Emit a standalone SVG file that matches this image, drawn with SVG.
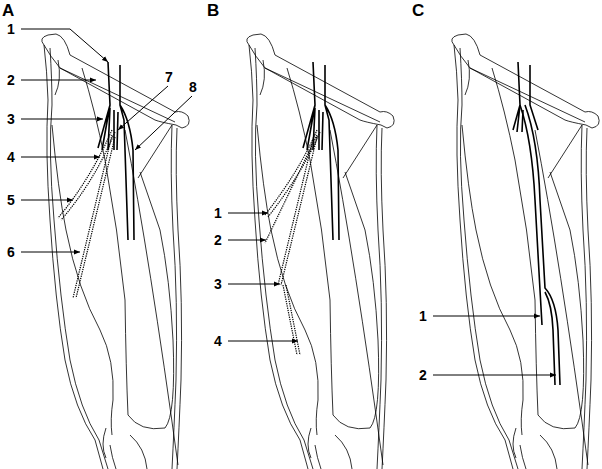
<svg xmlns="http://www.w3.org/2000/svg" width="602" height="469" viewBox="0 0 602 469">
<defs>
<style>
.o{fill:none;stroke:#000;stroke-width:0.8}
.v{fill:none;stroke:#000;stroke-width:1.6}
.d{fill:none;stroke:#000;stroke-width:1.2;stroke-dasharray:1.3 1}
.l{fill:none;stroke:#000;stroke-width:1}
.n{font-family:"Liberation Sans",Arial,sans-serif;font-weight:bold;font-size:14px}
.p{font-family:"Liberation Sans",Arial,sans-serif;font-weight:bold;font-size:17px}
</style>
<marker id="a" viewBox="0 0 10 10" refX="10" refY="5" markerWidth="6" markerHeight="6" orient="auto"><path d="M0,1 L10,5 L0,9z"/></marker>
<g id="thigh">
<path class="o" d="M44,45 Q38,38 48,35 L56,34 Q65,36 70,55 L175,112 Q182,110 188,116 Q192,126 182,128 L176,125 Q160,122 155,120 L60,68 Q50,56 44,45z"/>
<path class="o" d="M60,68 L175,122"/>
<path class="o" d="M44,45 Q47,70 48,100 Q45,150 50,220 Q55,300 65,360 Q75,410 95,440 L103,469"/>
<path class="o" d="M50,48 Q52,80 52,105 Q48,150 54,220 Q60,300 70,360 Q80,410 99,440 L108,469"/>
<path class="o" d="M58,60 Q62,80 55,95"/>
<path class="o" d="M52,125 Q58,190 66,230 Q78,290 100,330 Q115,360 113,400 Q110,420 112,435"/>
<path class="o" d="M82,68 Q95,110 105,160 Q118,230 125,300 Q126,370 128,415 Q140,432 165,428 Q176,415 173,340 Q170,280 160,230 L140,172"/>
<path class="o" d="M125,130 Q150,260 178,465"/>
<path class="o" d="M138,178 L172,125"/>
<path class="o" d="M172,125 Q170,170 173,230 Q178,300 176,380 Q174,430 172,469"/>
<path class="o" d="M177,128 Q175,170 178,230 Q183,300 181,380 Q179,430 177,469"/>
<path class="o" d="M106,428 Q100,445 106,458 M110,445 Q112,458 116,469 M130,435 Q145,448 147,469"/>
</g>
</defs>
<use href="#thigh"/>
<use href="#thigh" x="205"/>
<use href="#thigh" x="410"/>

<g id="vessels-A">
<path class="v" d="M108,62 L110,105 L98,148 M110,105 L102,150 M110,108 L108,150 M120,65 L120,105 Q130,120 133,150 L134,240 M120,105 L124,120 L125,150 L128,240 M114,110 L114,150 M118,112 L117,150"/>
<path class="d" d="M112,130 Q90,180 58,218 M115,132 Q94,182 61,220 M112,135 L73,298 M115,137 L76,298"/>
</g>
<g id="vessels-B">
<path class="v" d="M313,62 L315,105 L303,148 M315,105 L307,150 M315,108 L313,150 M325,65 L325,105 Q335,120 338,150 L339,240 M325,105 L329,120 L330,150 L333,240 M319,110 L319,150 M323,112 L322,150"/>
<path class="d" d="M317,130 Q300,170 265,215 M320,132 Q303,172 268,217 M317,135 L265,243 M314,135 L278,285 M317,137 L281,285 M283,285 L297,355 M286,285 L300,355"/>
</g>
<g id="vessels-C">
<path class="v" d="M518,62 L520,105 L513,130 M520,105 L517,132 M530,65 L530,105 L538,130 M523,110 L522,132"/>
<path class="v" d="M520,105 Q532,140 535,200 L540,290 L542,325 M525,105 Q538,140 540,200 L545,288 Q556,300 558,330 L560,385 M545,292 Q552,305 553,330 L555,385"/>
</g>

<g id="labels">
<text class="p" x="2" y="16">A</text>
<text class="p" x="207" y="16">B</text>
<text class="p" x="412" y="16">C</text>
<text class="n" x="7" y="34">1</text>
<text class="n" x="7" y="85">2</text>
<text class="n" x="7" y="124">3</text>
<text class="n" x="7" y="162">4</text>
<text class="n" x="7" y="205">5</text>
<text class="n" x="7" y="257">6</text>
<text class="n" x="165" y="82">7</text>
<text class="n" x="189" y="92">8</text>
<text class="n" x="214" y="218">1</text>
<text class="n" x="214" y="245">2</text>
<text class="n" x="214" y="289">3</text>
<text class="n" x="214" y="346">4</text>
<text class="n" x="419" y="321">1</text>
<text class="n" x="419" y="380">2</text>
</g>
<g id="connectors">
<path class="l" marker-end="url(#a)" d="M21,29 L70,29 L108,62"/>
<path class="l" marker-end="url(#a)" d="M21,80 L96,80"/>
<path class="l" marker-end="url(#a)" d="M21,119 L103,119"/>
<path class="l" marker-end="url(#a)" d="M21,157 L100,157"/>
<path class="l" marker-end="url(#a)" d="M21,200 L73,200"/>
<path class="l" marker-end="url(#a)" d="M21,252 L80,252"/>
<path class="l" marker-end="url(#a)" d="M168,86 L118,130"/>
<path class="l" marker-end="url(#a)" d="M192,96 L135,150"/>
<path class="l" marker-end="url(#a)" d="M228,213 L268,213"/>
<path class="l" marker-end="url(#a)" d="M228,240 L266,240"/>
<path class="l" marker-end="url(#a)" d="M228,284 L280,284"/>
<path class="l" marker-end="url(#a)" d="M228,341 L298,341"/>
<path class="l" marker-end="url(#a)" d="M433,316 L540,316"/>
<path class="l" marker-end="url(#a)" d="M433,375 L556,375"/>
</g>
</svg>
